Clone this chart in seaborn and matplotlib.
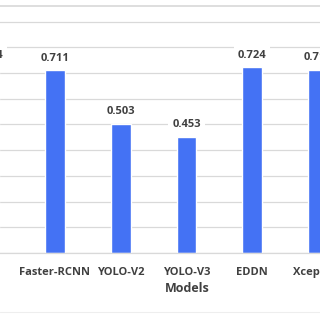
import matplotlib
matplotlib.use("Agg")
import matplotlib.pyplot as plt
import seaborn as sns
import pandas as pd
from matplotlib.lines import Line2D

# values (first bar sits just outside the left edge)
models = ["", "Faster-RCNN", "YOLO-V2", "YOLO-V3", "EDDN", "Xception"]
scores = [0.724, 0.711, 0.503, 0.453, 0.724, 0.713]
y_ticks = [0.0, 0.1, 0.2, 0.3, 0.4, 0.5, 0.6, 0.7, 0.8, 0.9]

BAR = "#4472f4"
TXT = "#404040"
GRID = "#d9d9d9"

df = pd.DataFrame({"Model": models, "Score": scores})

sns.set_theme(style="white")
plt.rcParams["font.family"] = ["Open Sans", "DejaVu Sans"]

fig = plt.figure(figsize=(3.2, 3.2), dpi=100)
# axes deliberately wider than the figure: the chart is a crop
# px per category ~65.75, Faster-RCNN (index 1) at x=55px
px = 65.75
left_px, right_px = -12, 386
ax = fig.add_axes([left_px / 320, 67 / 320, (right_px - left_px) / 320, 247 / 320])

sns.barplot(data=df, x="Model", y="Score", color=BAR, width=0.3, saturation=1, ax=ax)

ax.set_xlim(1 + (left_px - 55) / px, 1 + (right_px - 55) / px)
ax.set_ylim(0, 0.961)
ax.set_yticks(y_ticks)
ax.yaxis.grid(True, color=GRID, linewidth=0.9)
ax.set_axisbelow(True)
ax.tick_params(axis="y", left=False, labelleft=False)
ax.tick_params(axis="x", bottom=False, pad=4, labelsize=8, labelcolor=TXT)
for lbl in ax.get_xticklabels():
    lbl.set_fontweight("bold")
for side in ["left", "right"]:
    ax.spines[side].set_visible(False)
ax.spines["top"].set_color(GRID)
ax.spines["bottom"].set_color(GRID)
ax.spines["bottom"].set_linewidth(0.9)

for i, v in enumerate(scores):
    ax.annotate(f"{v:.3f}", (i, v), xytext=(0, 4.5), textcoords="offset points",
                ha="center", va="bottom", fontsize=8, fontweight="bold", color=TXT,
                bbox=dict(boxstyle="square,pad=0.35", fc="white", ec="none"))

ax.set_xlabel("Models", fontsize=9, color=TXT, fontweight="bold", labelpad=3)
ax.set_ylabel("")

# faint frame line of the next panel below
fig.add_artist(Line2D([0, 1], [1 - 312 / 320, 1 - 312 / 320], color="#eeeeee", linewidth=0.8))

fig.savefig("out.png", dpi=100, facecolor="white")
